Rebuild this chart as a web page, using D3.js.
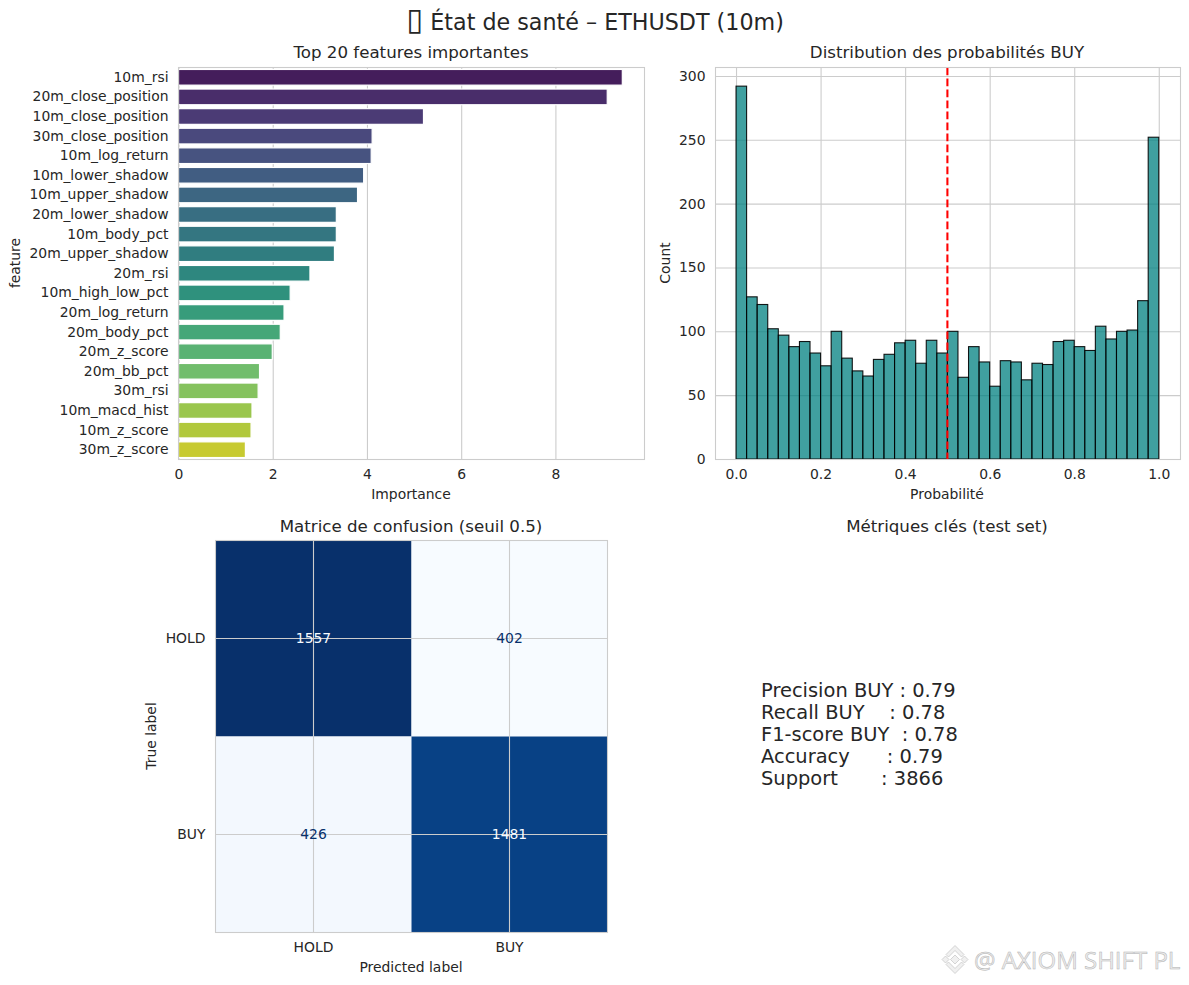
<!DOCTYPE html>
<html lang="fr">
  <head>
    <meta charset="UTF-8" />
    <title>État de santé – ETHUSDT (10m)</title>
    <script src="https://d3js.org/d3.v7.min.js"></script>
    <style>
      html, body {
        margin: 0;
        background: #fff;
      }

      svg {
        display: block;
      }

      text {
        font-family: "DejaVu Sans", sans-serif;
        fill: #262626;
      }

      .tick text {
        font-size: 13.9px;
      }

      .tick line {
        stroke: #cccccc;
        stroke-width: 1.1px;
      }

      .domain {
        display: none;
      }

      .title {
        font-size: 16.67px;
        text-anchor: middle;
      }

      .label {
        font-size: 13.9px;
        text-anchor: middle;
      }

      .frame {
        fill: none;
        stroke: #cccccc;
        stroke-width: 1.1px;
      }

      .metrics {
        font-size: 19.44px;
        white-space: pre;
      }
    </style>
  </head>
  <body>
    <svg id="chart" width="1189" height="985"></svg>

    <script>
      const features = [
        "10m_rsi", "20m_close_position", "10m_close_position", "30m_close_position",
        "10m_log_return", "10m_lower_shadow", "10m_upper_shadow", "20m_lower_shadow",
        "10m_body_pct", "20m_upper_shadow", "20m_rsi", "10m_high_low_pct",
        "20m_log_return", "20m_body_pct", "20m_z_score", "20m_bb_pct",
        "30m_rsi", "10m_macd_hist", "10m_z_score", "30m_z_score",
      ];
      const importances = [
        9.42, 9.1, 5.2, 4.11, 4.09, 3.93, 3.8, 3.35, 3.35, 3.31,
        2.79, 2.37, 2.24, 2.16, 1.99, 1.72, 1.69, 1.56, 1.54, 1.42,
      ];
      const importanceTicks = [0, 2, 4, 6, 8];

      // 40 classes de 0 a 1
      const probCounts = [
        292, 127, 121, 102, 97, 88, 92, 83, 73, 100,
        79, 69, 65, 78, 82, 91, 93, 75, 93, 83,
        100, 64, 88, 76, 57, 77, 76, 62, 75, 74,
        92, 93, 88, 85, 104, 94, 100, 101, 124, 252,
      ];
      const probTicks = [0, 0.2, 0.4, 0.6, 0.8, 1];
      const countTicks = [0, 50, 100, 150, 200, 250, 300];
      const threshold = 0.5;

      const cmLabels = ["HOLD", "BUY"];
      const cmRow0 = [1557, 402];
      const cmRow1 = [426, 1481];

      const metricLines = [
        "Precision BUY : 0.79",
        "Recall BUY    : 0.78",
        "F1-score BUY  : 0.78",
        "Accuracy      : 0.79",
        "Support       : 3866",
      ];

      const svg = d3.select("#chart");

      const suptitle = svg
        .append("text")
        .attr("x", 595)
        .attr("y", 30)
        .attr("text-anchor", "middle")
        .style("font-size", "22.22px");
      suptitle.append("tspan").style("font-size", "31px").text("\u25AF");
      suptitle.append("tspan").text(" État de santé – ETHUSDT (10m)");

      function title(x, y, str) {
        svg.append("text").attr("class", "title").attr("x", x).attr("y", y).text(str);
      }

      function label(x, y, str, rotate) {
        const t = svg.append("text").attr("class", "label").text(str);
        if (rotate) t.attr("transform", `translate(${x},${y}) rotate(-90)`);
        else t.attr("x", x).attr("y", y);
      }

      function frame(box) {
        svg
          .append("rect")
          .attr("class", "frame")
          .attr("x", box.left)
          .attr("y", box.top)
          .attr("width", box.right - box.left)
          .attr("height", box.bottom - box.top);
      }

      /* ---- Top 20 features ---- */
      const barBox = { left: 178.5, right: 644.5, top: 67.5, bottom: 459.5 };
      const barX = d3
        .scaleLinear()
        .domain([0, d3.max(importances) * 1.05])
        .range([barBox.left, barBox.right]);
      const barY = d3
        .scaleBand()
        .domain(features)
        .range([barBox.top, barBox.bottom])
        .paddingInner(0.2)
        .paddingOuter(0.1);

      svg
        .append("g")
        .attr("transform", `translate(0,${barBox.bottom})`)
        .call(
          d3
            .axisBottom(barX)
            .tickValues(importanceTicks)
            .tickSize(-(barBox.bottom - barBox.top))
            .tickPadding(10)
        );
      svg
        .append("g")
        .attr("transform", `translate(${barBox.left},0)`)
        .call(d3.axisLeft(barY).tickSize(0).tickPadding(10));

      // meme palette que seaborn : viridis desature a 0.75
      const barColor = (i) => {
        const c = d3.hsl(d3.interpolateViridis((i + 1) / (features.length + 1)));
        c.s *= 0.75;
        return c.formatHex();
      };

      svg
        .append("g")
        .selectAll("rect")
        .data(features)
        .enter()
        .append("rect")
        .attr("x", barX(0))
        .attr("y", (d) => barY(d))
        .attr("width", (d, i) => barX(importances[i]) - barX(0))
        .attr("height", barY.bandwidth())
        .attr("fill", (d, i) => barColor(i))
        .attr("stroke", "#fff")
        .attr("stroke-width", 1.2);

      frame(barBox);
      title(411, 58, "Top 20 features importantes");
      label(411, 499, "Importance");
      label(20, 263, "feature", true);

      /* ---- Histogramme ---- */
      const histBox = { left: 715.5, right: 1180.5, top: 67.5, bottom: 459.5 };
      const histX = d3
        .scaleLinear()
        .domain([-0.05, 1.05])
        .range([histBox.left - 0.6, histBox.right - 0.6]);
      const histY = d3
        .scaleLinear()
        .domain([0, d3.max(probCounts) * 1.05])
        .range([histBox.bottom - 0.5, histBox.top]);

      svg
        .append("g")
        .attr("transform", `translate(0,${histBox.bottom})`)
        .call(
          d3
            .axisBottom(histX)
            .tickValues(probTicks)
            .tickFormat(d3.format(".1f"))
            .tickSize(-(histBox.bottom - histBox.top))
            .tickPadding(10)
        );
      svg
        .append("g")
        .attr("transform", `translate(${histBox.left},0)`)
        .call(
          d3
            .axisLeft(histY)
            .tickValues(countTicks)
            .tickSize(-(histBox.right - histBox.left))
            .tickPadding(10)
        );

      const binWidth = 1 / probCounts.length;
      svg
        .append("g")
        .selectAll("rect")
        .data(probCounts)
        .enter()
        .append("rect")
        .attr("x", (d, i) => histX(i * binWidth))
        .attr("y", (d) => histY(d))
        .attr("width", histX(binWidth) - histX(0))
        .attr("height", (d) => histY(0) - histY(d))
        .attr("fill", "teal")
        .attr("fill-opacity", 0.75)
        .attr("stroke", "#000")
        .attr("stroke-opacity", 0.9)
        .attr("stroke-width", 1.1);

      svg
        .append("line")
        .attr("x1", histX(threshold))
        .attr("x2", histX(threshold))
        .attr("y1", histBox.top)
        .attr("y2", histBox.bottom)
        .attr("stroke", "red")
        .attr("stroke-width", 2.08)
        .attr("stroke-dasharray", "7.7 3.3");

      frame(histBox);
      title(947, 58, "Distribution des probabilités BUY");
      label(947, 499, "Probabilité");
      label(670, 263, "Count", true);

      /* ---- Matrice de confusion ---- */
      const cmBox = { left: 215.5, right: 607.5, top: 540.5, bottom: 932.5 };
      const cmRows = [cmRow0, cmRow1];
      const cmX = d3.scaleBand().domain(cmLabels).range([cmBox.left, cmBox.right]);
      const cmY = d3.scaleBand().domain(cmLabels).range([cmBox.top, cmBox.bottom]);
      const cmAll = cmRow0.concat(cmRow1);
      const cmColor = d3
        .scaleSequential(d3.piecewise(d3.interpolateRgb, d3.schemeBlues[9]))
        .domain(d3.extent(cmAll));

      const cells = cmRows.flatMap((row, r) =>
        row.map((v, c) => ({ row: cmLabels[r], col: cmLabels[c], value: v }))
      );

      svg
        .append("g")
        .selectAll("rect")
        .data(cells)
        .enter()
        .append("rect")
        .attr("x", (d) => cmX(d.col))
        .attr("y", (d) => cmY(d.row))
        .attr("width", cmX.bandwidth())
        .attr("height", cmY.bandwidth())
        .attr("fill", (d) => cmColor(d.value));

      svg
        .append("g")
        .attr("transform", `translate(0,${cmBox.bottom})`)
        .call(
          d3
            .axisBottom(cmX)
            .tickSize(-(cmBox.bottom - cmBox.top))
            .tickPadding(10)
        );
      svg
        .append("g")
        .attr("transform", `translate(${cmBox.left},0)`)
        .call(
          d3
            .axisLeft(cmY)
            .tickSize(-(cmBox.right - cmBox.left))
            .tickPadding(10)
        );

      const cmMid = (d3.min(cmAll) + d3.max(cmAll)) / 2;
      svg
        .append("g")
        .selectAll("text")
        .data(cells)
        .enter()
        .append("text")
        .attr("x", (d) => cmX(d.col) + cmX.bandwidth() / 2)
        .attr("y", (d) => cmY(d.row) + cmY.bandwidth() / 2)
        .attr("dy", "0.31em")
        .attr("text-anchor", "middle")
        .style("font-size", "13.9px")
        .style("fill", (d) => (d.value > cmMid ? "#f7fbff" : "#08306b"))
        .text((d) => d.value);

      frame(cmBox);
      title(411, 532, "Matrice de confusion (seuil 0.5)");
      label(411, 972, "Predicted label");
      label(156, 736, "True label", true);

      /* ---- Metriques ---- */
      title(947, 532, "Métriques clés (test set)");
      const metricsY = d3
        .scalePoint()
        .domain(d3.range(metricLines.length))
        .range([697, 785]);
      svg
        .append("g")
        .selectAll("text")
        .data(metricLines)
        .enter()
        .append("text")
        .attr("class", "metrics")
        .attr("x", 761)
        .attr("y", (d, i) => metricsY(i))
        .text((d) => d);

      /* ---- Filigrane ---- */
      const mark = svg.append("g").attr("transform", "translate(955,959.5)");
      const markPaths = [
        "M0,-4.5L4.5,0L0,4.5L-4.5,0Z",
        "M-9.5,-3.5L-6,0L-9.5,3.5L-13,0Z",
        "M9.5,-3.5L13,0L9.5,3.5L6,0Z",
        "M0,-14L9,-5L6.5,-2.5L0,-9L-6.5,-2.5L-9,-5Z",
        "M0,14L9,5L6.5,2.5L0,9L-6.5,2.5L-9,5Z",
      ];
      mark
        .selectAll("path")
        .data(markPaths)
        .enter()
        .append("path")
        .attr("d", (d) => d)
        .attr("fill", "#f0f0f0")
        .attr("stroke", "#c4c4c4")
        .attr("stroke-width", 0.7);

      svg
        .append("text")
        .attr("x", 974)
        .attr("y", 969)
        .style("font-family", '"Open Sans", sans-serif')
        .style("font-size", "24px")
        .style("fill", "#ececec")
        .style("stroke", "#b4b4b4")
        .style("stroke-width", "0.5px")
        .text("@ AXIOM SHIFT PL");
    </script>
  </body>
</html>
